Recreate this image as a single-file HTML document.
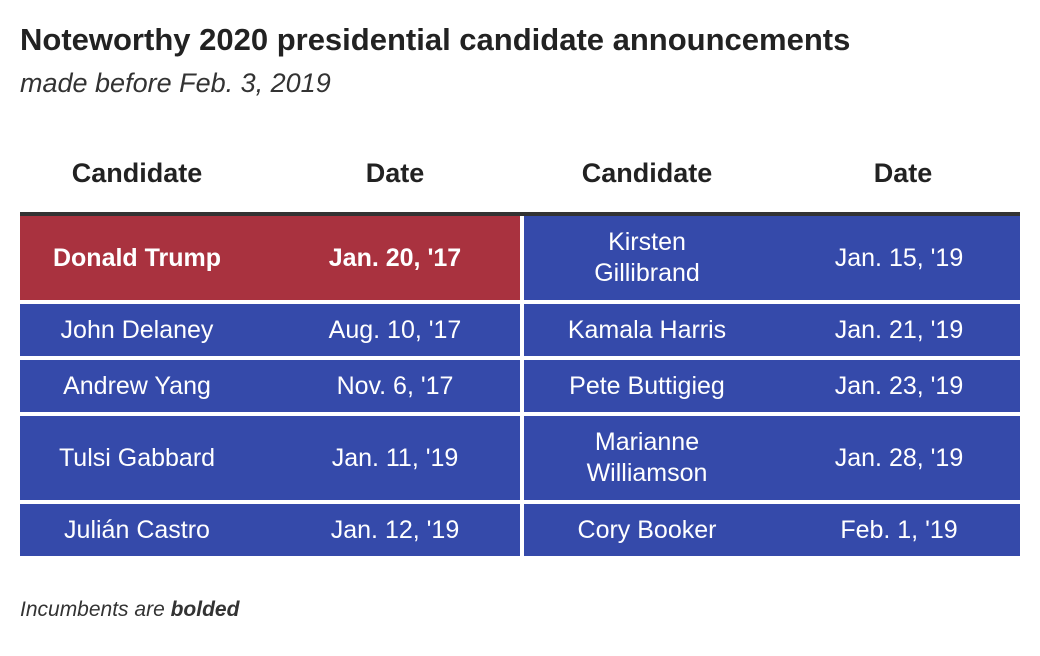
<!DOCTYPE html>
<html><head><meta charset="utf-8"><style>
body{margin:0;width:1040px;height:656px;background:#fff;font-family:"Liberation Sans",sans-serif;position:relative;overflow:hidden;color:#333}
.abs{position:absolute}
.cell{position:absolute;color:#fff;display:flex;align-items:center;justify-content:center;text-align:center;font-size:25px;line-height:31px}
.hd{position:absolute;top:158px;font-size:27px;font-weight:bold;color:#222;text-align:center;width:250px}
</style></head><body>
<div class="abs" style="left:20px;top:22px;font-size:31px;font-weight:bold;color:#222">Noteworthy 2020 presidential candidate announcements</div>
<div class="abs" style="left:20px;top:68px;font-size:27px;font-style:italic;color:#333">made before Feb. 3, 2019</div>
<div class="hd" style="left:12px">Candidate</div>
<div class="hd" style="left:270px">Date</div>
<div class="hd" style="left:522px">Candidate</div>
<div class="hd" style="left:778px">Date</div>
<div class="abs" style="left:20px;top:212px;width:1000px;height:4px;background:#333"></div>
<div id="tbl"></div>
<div class="abs" style="left:20px;top:598px;font-size:21px;font-style:italic;color:#333">Incumbents are <b>bolded</b></div>
<script>
const leftNames=["Donald Trump","John Delaney","Andrew Yang","Tulsi Gabbard","Julián Castro"];
const leftDates=["Jan. 20, '17","Aug. 10, '17","Nov. 6, '17","Jan. 11, '19","Jan. 12, '19"];
const rightNames=["Kirsten<br>Gillibrand","Kamala Harris","Pete Buttigieg","Marianne<br>Williamson","Cory Booker"];
const rightDates=["Jan. 15, '19","Jan. 21, '19","Jan. 23, '19","Jan. 28, '19","Feb. 1, '19"];
const rowTops=[216,304,360,416,504], rowHeights=[84,52,52,84,52];
const tbl=document.getElementById('tbl');
for(let i=0;i<5;i++){
  const blocks=[[20,leftNames[i],leftDates[i],i===0],[524,rightNames[i],rightDates[i],false]];
  blocks.forEach((b,j)=>{
    const bg=document.createElement('div');
    bg.className='abs';
    
    
    bg.style.cssText=`left:${b[0]}px;top:${rowTops[i]}px;width:${j?496:500}px;height:${rowHeights[i]}px;background:${b[3]?'#a9323f':'#354aaa'}`;
    tbl.appendChild(bg);
    const n=document.createElement('div');
    n.className='cell';
    
    
    n.style.cssText=`left:${b[0]}px;top:${rowTops[i]}px;width:${j?246:234}px;height:${rowHeights[i]}px;${b[3]?'font-weight:bold':''}`;
    n.innerHTML=b[1];
    tbl.appendChild(n);
    const d=document.createElement('div');
    d.className='cell';
    
    
    d.style.cssText=`left:${b[0]+(j?250:250)}px;top:${rowTops[i]}px;width:250px;height:${rowHeights[i]}px;${b[3]?'font-weight:bold':''}`;
    d.innerHTML=b[2];
    tbl.appendChild(d);
  });
}
</script>
</body></html>
